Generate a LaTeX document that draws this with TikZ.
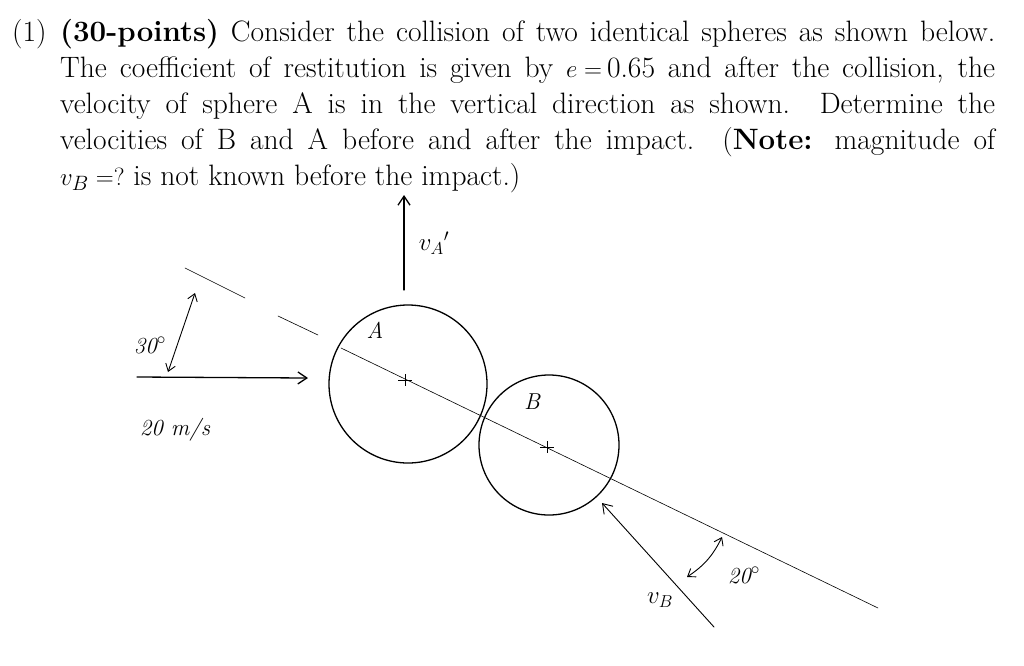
\documentclass[tikz,border=0pt]{standalone}
\usetikzlibrary{arrows.meta,calc}
\tikzset{
  txt/.style={anchor=base west,inner sep=0pt,font=\fontsize{29.5}{36}\selectfont},
  hand/.style={inner sep=0pt,font=\fontsize{23}{24}\selectfont\itshape},
  pen/.style={line width=1.3pt,line cap=round},
  thin/.style={line width=0.6pt,line cap=round},
  arr/.style={-{Straight Barb[length=9pt,width=12pt]}},
  darr/.style={{Straight Barb[length=7pt,width=10pt]}-{Straight Barb[length=7pt,width=10pt]}}
}
\begin{document}
\begin{tikzpicture}[x=1pt,y=-1pt]
\useasboundingbox (0,0) rectangle (1024,665);
% text
\node[txt] (n1) at (12,41) {(1)};
\node[txt] (l1) at (60,41) {\makebox[935pt][s]{\textbf{(30-points)} Consider the collision of two identical spheres as shown below.}};
\node[txt] (l2) at (60,77) {\makebox[935pt][s]{The coefficient of restitution is given by \mbox{$e=$\,0.65} and after the collision, the}};
\node[txt] (l3) at (60,113) {\makebox[935pt][s]{velocity of sphere A is in the vertical direction as shown.\ \ Determine the}};
\node[txt] (l4) at (60,149) {\makebox[935pt][s]{velocities of B and A before and after the impact.\ \ (\textbf{Note:} magnitude of}};
\node[txt] (l5) at (60,185) {$v_B=?$ is not known before the impact.)};
% spheres
\node[draw,pen,circle,minimum size=158pt,inner sep=0pt] (A) at (408,384) {};
\node[draw,pen,circle,minimum size=140pt,inner sep=0pt] (B) at (549,445) {};
\coordinate (ca) at (405,380);
\coordinate (cb) at (547,447);
\draw[line width=1pt] ($(ca)+(-7,0)$) -- ++(14,0) ($(ca)+(0,-6)$) -- ++(0,12);
\draw[line width=1pt] ($(cb)+(-7,0)$) -- ++(14,0) ($(cb)+(0,-6)$) -- ++(0,12);
% line of impact
\coordinate (d1) at (185,268);
\coordinate (d2) at (245,298);
\coordinate (d3) at (278,316);
\coordinate (d4) at (318,335);
\coordinate (le) at (878,608);
\coordinate (ls) at (341,348);
\draw[thin] (d1) -- (d2) (d3) -- (d4);
\draw[thin] (ls) -- (le);
% vA'
\coordinate (va0) at (404,290);
\coordinate (va1) at (404,195);
\draw[pen,arr] (va0) -- (va1);
\node[hand] (lva) at (434,243) {$v_A{}'$};
\node[hand] (lA) at (375,330) {A};
\node[hand] (lB) at (532,402) {B};
% 20 m/s
\coordinate (h0) at (137,377);
\coordinate (h1) at (308,378);
\draw[pen,arr] (h0) -- (h1);
\node[hand] (l20) at (175,430) {20 m/s};
% 30 deg
\coordinate (t0) at (195,293);
\coordinate (t1) at (168,372);
\draw[thin,line width=0.9pt,darr] (t0) -- (t1);
\node[hand] (l30) at (150,345) {30$^\circ$};
% vB
\coordinate (vb0) at (714,627);
\coordinate (vb1) at (602,503);
\draw[thin,line width=0.9pt,arr] (vb0) -- (vb1);
\node[hand] (lvb) at (660,600) {$v_B$};
% 20 deg
\coordinate (w0) at (722,537);
\coordinate (w1) at (687,577);
\draw[thin,line width=0.9pt,darr] (w0) to[bend left=15] (w1);
\node[hand] (l20d) at (744,575) {20$^\circ$};
\end{tikzpicture}
\end{document}
